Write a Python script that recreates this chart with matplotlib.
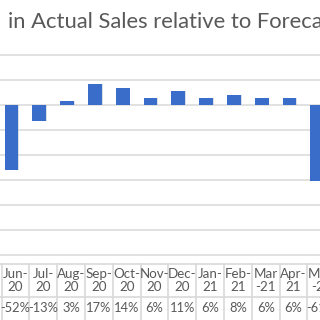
import matplotlib.pyplot as plt

months = ["Jun-\n20", "Jul-\n20", "Aug-\n20", "Sep-\n20", "Oct-\n20", "Nov-\n20",
          "Dec-\n20", "Jan-\n21", "Feb-\n21", "Mar\n-21", "Apr-\n21", "May\n-21"]
variance = [-52, -13, 3, 17, 14, 6, 11, 6, 8, 6, 6, -61]
value_labels = ["-52%", "-13%", "3%", "17%", "14%", "6%", "11%", "6%", "8%", "6%", "6%", "-61%"]

plt.rcParams['font.family'] = ['Lato', 'DejaVu Sans']
grey = "#595959"
grid = "#d9d9d9"
blue = "#3a6cc9"

W = 320.0
step = 27.8  # pixels per category

fig = plt.figure(figsize=(3.2, 3.2), dpi=100)

# plot area: image y 55 (40%) to 255 (-120%)
ax = fig.add_axes([0, (320 - 255) / 320, 1, 200 / 320])
x0 = 11.5
ax.set_xlim(-x0 / step, (W - x0) / step)
ax.set_ylim(-120, 40)
for v in range(-120, 41, 20):
    ax.axhline(v, color=grid, lw=1.1, zorder=0, clip_on=False)
xs = list(range(len(variance)))
# soft shadow then bars
ax.bar([x + 0.03 for x in xs], variance, width=0.5, bottom=0, color="#9aa6bd",
       alpha=0.35, zorder=1)
ax.bar(xs, variance, width=0.5, color=blue, zorder=2)
ax.axis("off")

# data table below
tab = fig.add_axes([0, 0, 1, (320 - 263) / 320])
t0 = 15.5
tab.set_xlim(-t0 / step, (W - t0) / step)
tab.set_ylim(320, 263)
tab.axis("off")
tab.axhline(264, color=grid, lw=1.2, clip_on=False)
tab.axhline(297, color=grid, lw=1.2)
for i in range(-1, len(months)):
    tab.axvline(i + 0.5, color=grid, lw=1.2)
for i, (m, v) in enumerate(zip(months, value_labels)):
    tab.text(i, 280.5, m, ha="center", va="center", fontsize=9.6, color=grey,
             linespacing=1.1)
    tab.text(i, 308.5, v, ha="center", va="center", fontsize=9.3, color=grey)

fig.text(8 / W, 1 - 22 / 320, "in Actual Sales relative to Forecast",
         ha="left", va="center", fontsize=15.8, color=grey)

fig.savefig("out.png", dpi=100)
